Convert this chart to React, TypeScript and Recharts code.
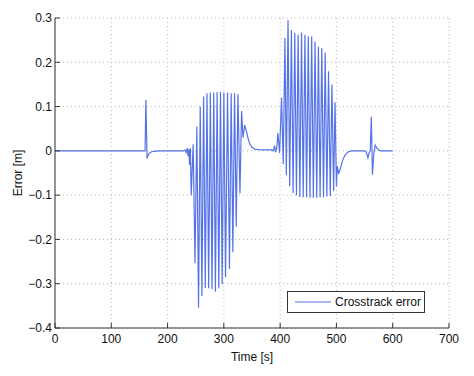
import React from 'react';
import { LineChart, Line, XAxis, YAxis, CartesianGrid, Legend } from 'recharts';

const times = [
  0, 158, 160, 161.5, 163.5, 166, 170, 175, 185, 228,
  231, 233, 235, 236.5, 238, 239, 240.5,
  242, 245.5, 248.7, 252, 255, 258, 261, 264, 267, 270, 273, 276, 279, 282, 285, 288, 291, 294, 297, 300,
  303, 306.5, 310, 313, 316, 319, 322, 325, 328.6, 331.5, 334, 337, 340, 343, 346, 350, 355, 365, 385,
  388, 390, 392, 394, 396, 399, 402.5, 405.5, 408.5, 411, 414, 417, 420, 423, 426, 429, 432, 435, 438,
  441, 444, 447, 450, 453, 456, 459, 462, 465, 468, 471, 474, 477, 480, 483, 486, 489, 492, 495, 497.5,
  500, 501.5, 504, 507, 511, 515, 520, 526, 550, 553, 556, 558, 560, 562, 564, 566.5, 569, 572, 576, 580, 600,
];
const errors = [
  0, 0, 0, 0.115, -0.017, -0.008, -0.003, -0.001, 0, 0,
  0.002, -0.004, 0.006, -0.012, 0.004, -0.032, 0.006,
  -0.1, 0.015, -0.254, 0.055, -0.354, 0.1, -0.328, 0.123, -0.31, 0.13, -0.31, 0.132, -0.312, 0.132, -0.318, 0.133, -0.31, 0.133, -0.301, 0.132,
  -0.285, 0.132, -0.267, 0.13, -0.229, 0.13, -0.171, 0.128, -0.096, 0.09, 0.03, 0.058, 0.045, 0.028, 0.016, 0.008, 0.004, 0.002, 0.002,
  0.0, 0.012, -0.003, 0.006, 0.04, -0.005, 0.12, -0.03, 0.255, -0.055, 0.295, -0.08, 0.273, -0.095, 0.266, -0.1, 0.262, -0.104, 0.267,
  -0.105, 0.262, -0.105, 0.259, -0.106, 0.258, -0.106, 0.247, -0.106, 0.235, -0.105, 0.232, -0.105, 0.222, -0.103, 0.18, -0.102, 0.15, -0.09, 0.11,
  -0.08, -0.035, -0.052, -0.04, -0.022, -0.01, -0.003, 0, 0, -0.003, -0.016, -0.005, 0.0, 0.077, -0.054, -0.005, 0.013, 0.006, 0.001, 0, 0,
];
const xTicks = [0, 100, 200, 300, 400, 500, 600, 700];
const yTicks = [-0.4, -0.3, -0.2, -0.1, 0, 0.1, 0.2, 0.3];
const seriesName = 'Crosstrack error';
const xLabel = 'Time [s]';
const yLabel = 'Error [m]';

const data = times.map((t, i) => ({ t, e: errors[i] }));

const FONT = '"Liberation Sans", Arial, Helvetica, sans-serif';
const LINE_COLOR = '#5473e8';
const AXIS_COLOR = '#333333';

const fmtY = (v: number) => {
  if (Math.abs(v) < 1e-9) return '0';
  return v.toFixed(1).replace('-', '\u2212');
};

const LegendBox = () => (
  <div
    style={{
      width: 138,
      height: 22,
      border: '1px solid #333',
      background: '#fff',
      boxSizing: 'border-box',
      display: 'flex',
      alignItems: 'center',
      fontFamily: FONT,
      fontSize: 12,
      color: '#111',
    }}
  >
    <svg width={44} height={10} style={{ marginLeft: 7 }}>
      <line x1={0} y1={5} x2={36} y2={5} stroke={LINE_COLOR} strokeWidth={1.2} />
    </svg>
    <span style={{ marginLeft: -4 }}>{seriesName}</span>
  </div>
);

export default function App() {
  return (
    <LineChart
      width={466}
      height={368}
      data={data}
      margin={{ top: 10, right: 25, bottom: 0, left: 0 }}
      style={{ fontFamily: FONT }}
    >
      <CartesianGrid stroke="#bbbbbb" strokeDasharray="1 3" />
      <XAxis
        dataKey="t"
        type="number"
        domain={[0, 700]}
        ticks={xTicks}
        interval={0}
        height={48}
        tickSize={-5}
        tickMargin={11}
        stroke={AXIS_COLOR}
        tick={{ fill: '#111', fontSize: 12, fontFamily: FONT }}
        label={{ value: xLabel, position: 'insideBottom', offset: 15, fill: '#111', fontSize: 12, fontFamily: FONT }}
      />
      <XAxis
        xAxisId="top"
        orientation="top"
        dataKey="t"
        type="number"
        domain={[0, 700]}
        ticks={xTicks}
        interval={0}
        height={0}
        tickSize={-5}
        tick={false}
        stroke={AXIS_COLOR}
      />
      <YAxis
        type="number"
        domain={[-0.4, 0.3]}
        ticks={yTicks}
        interval={0}
        width={47}
        tickSize={-5}
        tickMargin={8}
        stroke={AXIS_COLOR}
        tickFormatter={fmtY}
        tick={{ fill: '#111', fontSize: 12, fontFamily: FONT }}
        label={{ value: yLabel, angle: -90, position: 'insideLeft', offset: 10, fill: '#111', fontSize: 12, fontFamily: FONT, style: { textAnchor: 'middle' } }}
      />
      <YAxis
        yAxisId="right"
        orientation="right"
        type="number"
        domain={[-0.4, 0.3]}
        ticks={yTicks}
        interval={0}
        width={0}
        tickSize={-5}
        tick={false}
        stroke={AXIS_COLOR}
      />
      <Legend
        layout="horizontal"
        verticalAlign="middle"
        align="center"
        content={<LegendBox />}
        wrapperStyle={{ position: 'absolute', left: 279, top: 283, width: 'auto', height: 'auto' }}
      />
      <Line
        type="linear"
        dataKey="e"
        name={seriesName}
        stroke={LINE_COLOR}
        strokeWidth={1.2}
        dot={false}
        activeDot={false}
        isAnimationActive={false}
      />
    </LineChart>
  );
}
